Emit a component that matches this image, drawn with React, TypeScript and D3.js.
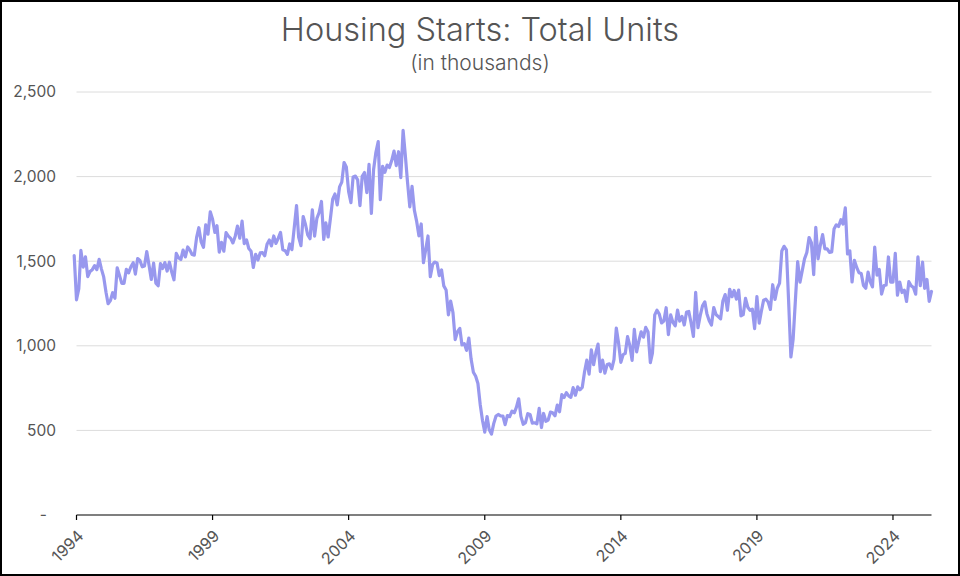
import React from "react";
import * as d3 from "d3";

// Monthly housing starts, thousands of units (SAAR), Dec 1993 .. Jun 2025
const v1993 = [1533];
const v1994 = [1272, 1337, 1564, 1465, 1526, 1409, 1439, 1450, 1474, 1450, 1511, 1455];
const v1995 = [1407, 1316, 1249, 1267, 1314, 1281, 1461, 1416, 1369, 1369, 1452, 1431];
const v1996 = [1467, 1491, 1424, 1516, 1504, 1467, 1472, 1557, 1475, 1392, 1489, 1370];
const v1997 = [1355, 1486, 1457, 1492, 1442, 1494, 1437, 1390, 1546, 1520, 1510, 1566];
const v1998 = [1525, 1584, 1567, 1540, 1536, 1641, 1698, 1614, 1582, 1715, 1660, 1792];
const v1999 = [1748, 1670, 1710, 1553, 1611, 1559, 1669, 1648, 1635, 1608, 1648, 1708];
const v2000 = [1636, 1737, 1604, 1626, 1575, 1559, 1463, 1541, 1507, 1549, 1551, 1532];
const v2001 = [1600, 1625, 1590, 1649, 1605, 1636, 1670, 1567, 1562, 1540, 1602, 1568];
const v2002 = [1698, 1829, 1642, 1592, 1764, 1717, 1655, 1633, 1804, 1648, 1753, 1788];
const v2003 = [1853, 1629, 1726, 1643, 1751, 1867, 1897, 1833, 1939, 1967, 2083, 2057];
const v2004 = [1911, 1846, 1998, 2003, 1981, 1828, 2002, 2024, 1905, 2072, 1782, 2042];
const v2005 = [2144, 2207, 1864, 2061, 2025, 2068, 2054, 2095, 2151, 2065, 2147, 1994];
const v2006 = [2273, 2119, 1969, 1821, 1942, 1802, 1737, 1650, 1720, 1491, 1570, 1649];
const v2007 = [1409, 1480, 1495, 1490, 1415, 1448, 1354, 1330, 1183, 1264, 1197, 1037];
const v2008 = [1084, 1103, 1005, 1013, 973, 1046, 923, 844, 820, 777, 652, 560];
const v2009 = [490, 582, 505, 478, 540, 585, 594, 586, 585, 534, 588, 581];
const v2010 = [614, 604, 636, 687, 583, 536, 546, 599, 594, 543, 545, 539];
const v2011 = [630, 517, 600, 554, 561, 608, 604, 586, 650, 610, 711, 694];
const v2012 = [723, 704, 695, 753, 708, 757, 740, 754, 847, 915, 833, 976];
const v2013 = [888, 962, 1010, 847, 915, 838, 889, 893, 864, 918, 1105, 1018];
const v2014 = [902, 948, 955, 1054, 1002, 914, 1097, 964, 1030, 1083, 1051, 1109];
const v2015 = [1082, 901, 956, 1183, 1210, 1187, 1135, 1147, 1225, 1066, 1183, 1138];
const v2016 = [1118, 1211, 1146, 1174, 1123, 1200, 1203, 1135, 1055, 1316, 1107, 1178];
const v2017 = [1236, 1260, 1190, 1148, 1123, 1226, 1185, 1172, 1159, 1265, 1303, 1210];
const v2018 = [1334, 1290, 1327, 1276, 1329, 1177, 1184, 1280, 1228, 1209, 1217, 1102];
const v2019 = [1291, 1134, 1203, 1270, 1276, 1258, 1215, 1361, 1274, 1340, 1370, 1560];
const v2020 = [1588, 1567, 1269, 934, 1038, 1273, 1497, 1376, 1445, 1514, 1551, 1640];
const v2021 = [1610, 1420, 1700, 1514, 1594, 1657, 1573, 1573, 1552, 1555, 1690, 1715];
const v2022 = [1705, 1745, 1720, 1815, 1543, 1561, 1377, 1505, 1463, 1432, 1427, 1357];
const v2023 = [1340, 1436, 1380, 1348, 1583, 1418, 1451, 1305, 1356, 1359, 1525, 1376];
const v2024 = [1376, 1546, 1299, 1377, 1315, 1329, 1262, 1379, 1355, 1344, 1305, 1526];
const v2025 = [1355, 1494, 1339, 1392, 1263, 1321];

const values = [
  ...v1993, ...v1994, ...v1995, ...v1996, ...v1997, ...v1998, ...v1999, ...v2000,
  ...v2001, ...v2002, ...v2003, ...v2004, ...v2005, ...v2006, ...v2007, ...v2008,
  ...v2009, ...v2010, ...v2011, ...v2012, ...v2013, ...v2014, ...v2015, ...v2016,
  ...v2017, ...v2018, ...v2019, ...v2020, ...v2021, ...v2022, ...v2023, ...v2024,
  ...v2025,
];

const xTickYears = [1994, 1999, 2004, 2009, 2014, 2019, 2024];
const yTicks = [0, 500, 1000, 1500, 2000, 2500];

const title = "Housing Starts: Total Units";
const subtitle = "(in thousands)";

const W = 960;
const H = 576;
const FONT = "Inter, 'Noto Sans', sans-serif";

export default function App() {
  const data = values.map((v, i) => ({ date: new Date(1993, 11 + i, 1), value: v }));

  const x = d3
    .scaleTime()
    .domain([new Date(1994, 0, 1), new Date(2025, 5, 1)])
    .range([76.5, 931.5]);
  const y = d3.scaleLinear().domain([0, 2500]).range([515, 92]);

  const line = d3
    .line<{ date: Date; value: number }>()
    .x((d) => x(d.date))
    .y((d) => y(d.value));

  const fmt = (v: number) => (v === 0 ? "-" : d3.format(",")(v));
  const [x0, x1] = x.range();

  return (
    <svg
      width={W}
      height={H}
      style={{ position: "absolute", left: 0, top: 0, background: "#fff" }}
      fontFamily={FONT}
    >
      <rect x={1} y={1} width={W - 2} height={H - 2} fill="#fff" stroke="#000" strokeWidth={2} />

      <text x={480} y={41} textAnchor="middle" fontSize={32.5} fontWeight={300} fill="#555">
        {title}
      </text>
      <text x={480} y={70} textAnchor="middle" fontSize={21} fontWeight={300} fill="#555">
        {subtitle}
      </text>

      {yTicks.map((t) => (
        <g key={t}>
          {t !== 0 && (
            <line x1={x0} x2={x1} y1={y(t)} y2={y(t)} stroke="#dcdcdc" strokeWidth={1} />
          )}
          <text
            x={56}
            dx={t === 0 ? -9 : 0}
            y={y(t)}
            dy="0.35em"
            textAnchor="end"
            fontSize={15.5}
            fill="#555"
          >
            {fmt(t)}
          </text>
        </g>
      ))}

      <path
        d={line(data) || ""}
        fill="none"
        stroke="#9898ee"
        strokeWidth={3.2}
        strokeLinejoin="round"
        strokeLinecap="round"
      />

      <line x1={x0} x2={x1} y1={y(0)} y2={y(0)} stroke="#000" strokeWidth={1.2} />
      {xTickYears.map((yr) => {
        const tx = x(new Date(yr, 0, 1));
        return (
          <g key={yr}>
            <line x1={tx} x2={tx} y1={y(0)} y2={y(0) + 5} stroke="#000" strokeWidth={1.2} />
            <text
              transform={`translate(${tx + 4},${y(0) + 18}) rotate(-45)`}
              textAnchor="end"
              dy="0.35em"
              fontSize={16}
              fill="#555"
            >
              {yr}
            </text>
          </g>
        );
      })}
    </svg>
  );
}
